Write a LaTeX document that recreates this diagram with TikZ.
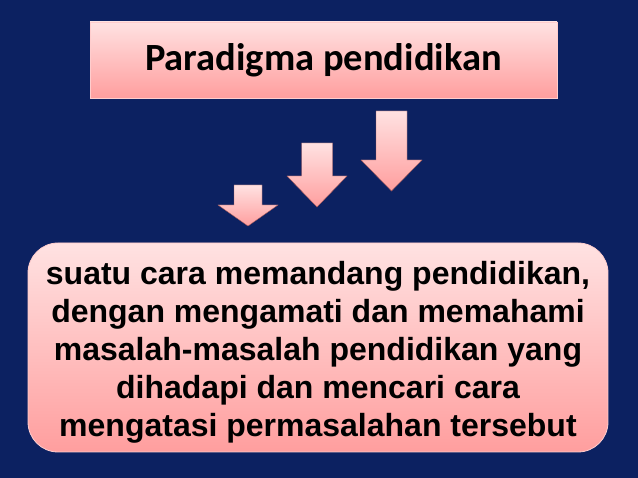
\documentclass[tikz,border=0pt]{standalone}
\usepackage{fontspec}
\setmainfont{Liberation Sans}
\newfontfamily\calibrifont{Carlito}
\usepackage{tikz}
\usetikzlibrary{shapes,positioning}
\definecolor{navy}{RGB}{12,33,97}
\definecolor{pinktop}{RGB}{255,226,226}
\definecolor{pinkbot}{RGB}{255,158,158}
\definecolor{pinkedge}{RGB}{255,205,205}
\tikzstyle{titlebox} = [draw=pinkedge, line width=0.8pt, rectangle,
    top color=pinktop, bottom color=pinkbot, inner sep=0pt,
    font=\calibrifont\bfseries\fontsize{38.5}{44}\selectfont]
\tikzstyle{textbox} = [draw=pinkedge, line width=0.8pt, rectangle,
    rounded corners=30pt, top color=pinktop, bottom color=pinkbot,
    align=center, inner sep=0pt,
    font=\bfseries\fontsize{32}{38}\selectfont]
\tikzstyle{blockarrow} = [draw=red!30!gray, line width=0.4pt,
    top color=pinktop, bottom color=pinkbot]

\begin{document}
\begin{tikzpicture}[x=1pt, y=-1pt]
  \fill[navy] (0,0) rectangle (638,478);
  \node [titlebox, minimum width=467pt, minimum height=76pt] (title)
  at (323.5,60) {Paradigma pendidikan};
  \node [textbox, minimum width=580pt, minimum height=209pt] (meaning)
  at (318,347.5) {\rule{0pt}{33pt}suatu cara memandang pendidikan,\\
    dengan mengamati dan memahami\\
    masalah-masalah pendidikan yang\\
    dihadapi dan mencari cara\\
    mengatasi permasalahan tersebut};
  % three arrows, growing from left to right
  \draw [blockarrow] (234,185) -- (262,185) -- (262,205) -- (278,205)
    -- (248,226) -- (218,205) -- (234,205) -- cycle;
  \draw [blockarrow] (301.5,143) -- (332.5,143) -- (332.5,176) -- (347,176)
    -- (317,207) -- (287,176) -- (301.5,176) -- cycle;
  \draw [blockarrow] (376,111) -- (407,111) -- (407,160) -- (422,160)
    -- (391.5,191) -- (361,160) -- (376,160) -- cycle;
\end{tikzpicture}
\end{document}
